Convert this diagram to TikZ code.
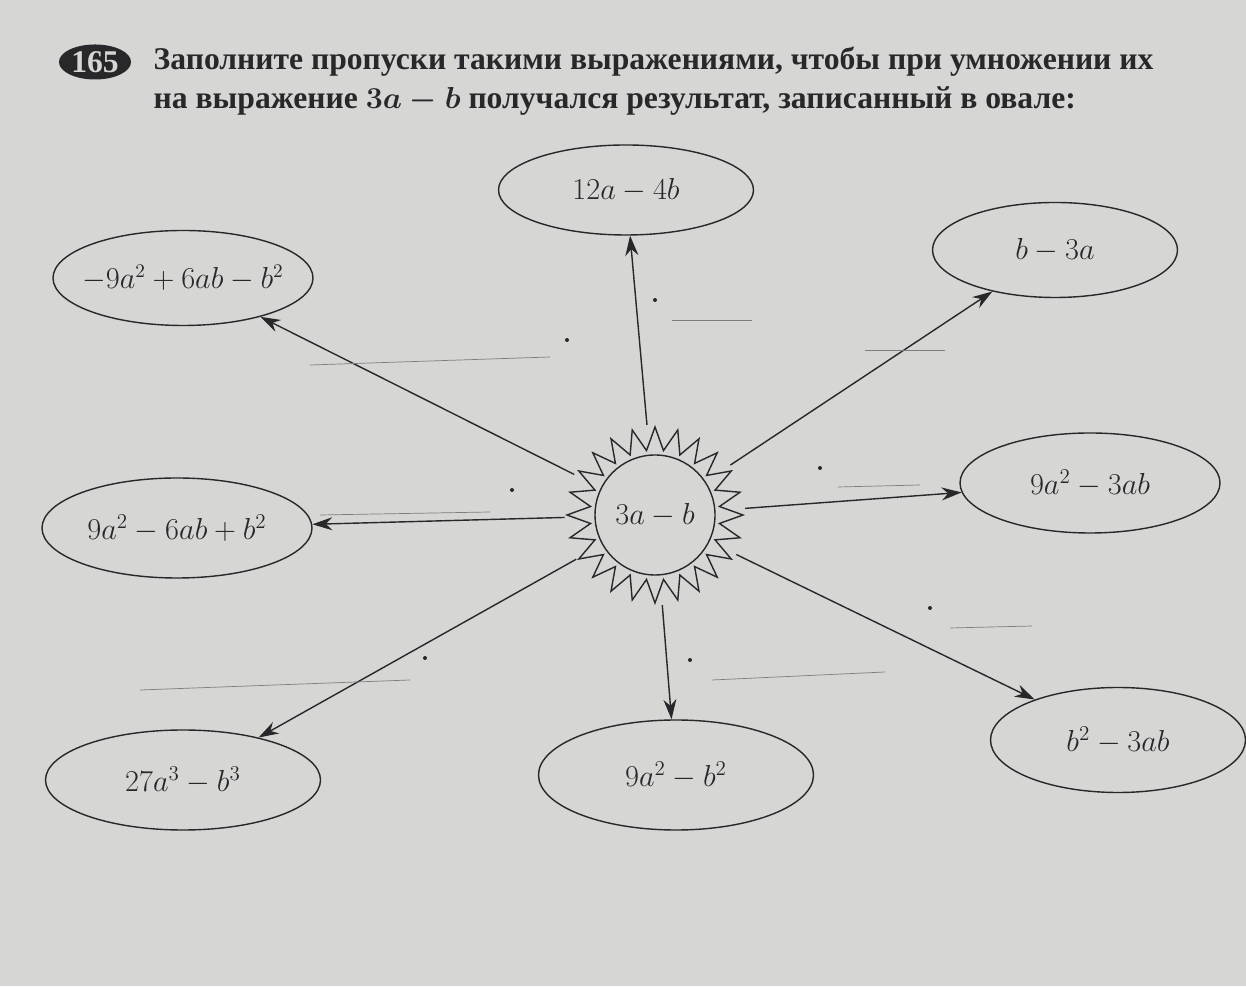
\documentclass[tikz,border=0pt]{standalone}
\usepackage{fontspec}
\setmainfont{Liberation Serif}
\usetikzlibrary{positioning,arrows.meta,shapes.geometric}
\definecolor{paper}{RGB}{214,214,212}
\definecolor{ink}{RGB}{40,40,42}
\newcommand{\ovaltext}[1]{\makebox[0pt]{$#1$}}

\begin{document}
\begin{tikzpicture}[
        oval/.style={
            ellipse,
            draw=ink,
            thick,
            inner sep=0pt,
            font=\fontsize{17}{20}\selectfont,
            text=ink
        },
        arrow/.style={
            -{Stealth[length=4mm,width=2.6mm]},
            thick,
            draw=ink
        },
        blank/.style={
            draw=ink!60,
            thin
        }
    ]

    % page
    \fill[paper] (0,0) rectangle (24.92,19.72);
    \useasboundingbox (0,0) rectangle (24.92,19.72);

    % task header
    \node[ellipse, fill=ink, text=paper, inner sep=1pt, minimum width=1.2cm,
        font=\fontsize{18}{22}\selectfont\bfseries] (num) at (1.9,18.48) {165};
    \node[anchor=west, text=ink, font=\fontsize{18}{24}\selectfont\bfseries] (line1) at (2.95,18.48)
        {Заполните пропуски такими выражениями, чтобы при умножении их};
    \node[anchor=west, text=ink, font=\fontsize{18}{24}\selectfont\bfseries\boldmath] (line2) at (2.95,17.7)
        {на выражение $3a-b$ получался результат, записанный в овале:};

    % centre
    \draw[ink, thick] (13.1,9.42) circle (1.2);
    \draw[ink, thick] ([shift={(13.1,9.42)}]0:1.76)
        \foreach \k in {0,...,23} {
            -- ([shift={(13.1,9.42)}]\k*15+7.5:1.3) -- ([shift={(13.1,9.42)}]\k*15+15:1.76)
        } -- cycle;
    \node[circle, minimum size=3.6cm, text=ink, font=\fontsize{17}{20}\selectfont] (c) at (13.1,9.42) {$3a-b$};

    % ovals
    \node[oval, minimum width=5.1cm, minimum height=1.8cm] (top) at (12.52,15.92) {\ovaltext{12a-4b}};
    \node[oval, minimum width=5.2cm, minimum height=1.9cm, font=\fontsize{16}{20}\selectfont] (sq1) at (3.66,14.16) {\ovaltext{-9a^2+6ab-b^2}};
    \node[oval, minimum width=4.9cm, minimum height=1.9cm] (ba) at (21.1,14.72) {\ovaltext{b-3a}};
    \node[oval, minimum width=5.2cm, minimum height=2.0cm] (nab) at (21.8,10.06) {\ovaltext{9a^2-3ab}};
    \node[oval, minimum width=5.4cm, minimum height=2.0cm] (sq2) at (3.54,9.16) {\ovaltext{9a^2-6ab+b^2}};
    \node[oval, minimum width=5.5cm, minimum height=2.0cm] (cube) at (3.66,4.12) {\ovaltext{27a^3-b^3}};
    \node[oval, minimum width=5.5cm, minimum height=2.2cm] (diff) at (13.52,4.22) {\ovaltext{9a^2-b^2}};
    \node[oval, minimum width=5.1cm, minimum height=2.1cm] (bab) at (22.36,4.92) {\ovaltext{b^2-3ab}};

    % connections
    \draw[arrow] (c) -- (top);
    \draw[arrow] (c) -- (sq1);
    \draw[arrow] (c) -- (ba);
    \draw[arrow] (c) -- (nab);
    \draw[arrow] (c) -- (sq2);
    \draw[arrow] (c) -- (cube);
    \draw[arrow] (c) -- (diff);
    \draw[arrow] (c) -- (bab);

    % blanks to fill in
    \draw[blank] (13.44,13.32) -- (15.04,13.32);
    \draw[blank] (6.2,12.42) -- (11.0,12.58);
    \draw[blank] (17.3,12.72) -- (18.9,12.72);
    \draw[blank] (16.76,9.98) -- (18.4,10.02);
    \draw[blank] (6.4,9.42) -- (9.8,9.48);
    \draw[blank] (2.8,5.92) -- (8.2,6.12);
    \draw[blank] (14.24,6.12) -- (17.7,6.28);
    \draw[blank] (19.0,7.16) -- (20.64,7.2);
    \foreach \p in {(13.1,13.72),(11.34,12.92),(16.4,10.36),(10.24,9.92),(8.5,6.56),(13.8,6.52),(18.6,7.56)}
        \fill[ink] \p circle (0.04);

\end{tikzpicture}
\end{document}
